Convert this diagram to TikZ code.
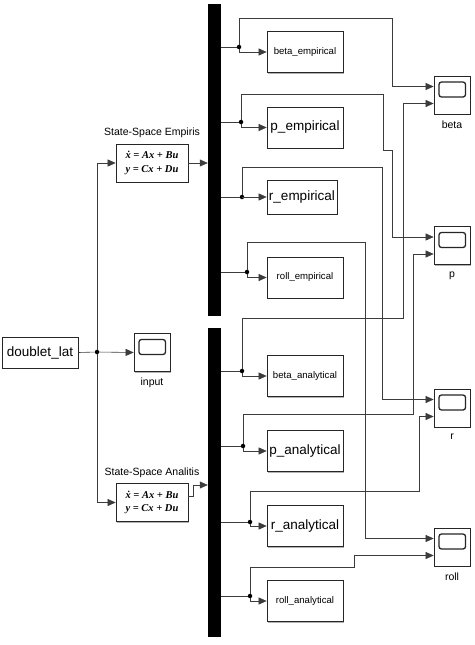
\documentclass[tikz,border=0pt]{standalone}
\usepackage{fontspec}
\setmainfont{Liberation Sans}
\newfontfamily\eqfont{Liberation Serif}
\usepackage{tikz}
\usetikzlibrary{arrows.meta,positioning,calc,shadows}
\definecolor{wirecol}{RGB}{60,60,60}
\tikzset{
  % plain block
  blk/.style={rectangle, draw=black!85, fill=white, line width=0.7pt, minimum width=#1, minimum height=41pt,
              inner sep=0pt, drop shadow={shadow xshift=1.3pt, shadow yshift=-1.3pt, fill=black!30, opacity=1}},
  blk/.default={76pt},
  % scope block with screen
  scopeblk/.style={blk=36pt, minimum height=38pt,
    path picture={\draw[line width=1.3pt, rounded corners=2.5pt]
      ([xshift=5pt,yshift=-6pt]path picture bounding box.north west) rectangle
      ([xshift=-4.5pt,yshift=-21pt]path picture bounding box.north east);}},
  % state-space block
  ssblk/.style={blk=72pt, minimum height=38pt, align=left,
                font=\eqfont\bfseries\itshape\fontsize{10.5}{13.5}\selectfont},
  % mux bar
  barblk/.style={rectangle, fill=black, minimum width=13pt, inner sep=0pt},
  % fonts
  bigf/.style={font=\fontsize{13.5}{14}\selectfont},
  smallf/.style={font=\fontsize{9.6}{10}\selectfont},
  labf/.style={font=\fontsize{10.5}{11}\selectfont},
  % wires
  wire/.style={draw=wirecol, line width=0.6pt},
  sig/.style={wire, -{Triangle[length=8pt,width=7pt]}},
  % branch dot
  bdot/.style={circle, fill=black, inner sep=0pt, minimum size=4.5pt},
}
\begin{document}
\begin{tikzpicture}[x=1pt, y=-1pt]
  \useasboundingbox (0,0) rectangle (474,645);

  % source and input scope
  \node[blk=76pt, minimum height=31pt, bigf] (dl) at (40,352.5) {doublet\_lat};
  \node[bdot] (j0) at (97,352) {};
  \node[scopeblk] (scIn) at (152,352.5) {};
  \node[labf, below=3pt of scIn] {input};

  % state-space blocks
  \node[ssblk] (ssE) at (152,163) {\.{x} = Ax + Bu\\y = Cx + Du};
  \node[labf, above=2pt of ssE] {State-Space Empiris};
  \node[ssblk] (ssA) at (152,502.5) {\.{x} = Ax + Bu\\y = Cx + Du};
  \node[labf, above=2pt of ssA] {State-Space Analitis};

  % mux bars
  \node[barblk, minimum height=312pt] (bE) at (214.5,160) {};
  \node[barblk, minimum height=309pt] (bA) at (214.5,482.5) {};

  % output blocks
  \node[blk, smallf] (betaE) at (305,52) {beta\_empirical};
  \node[blk, bigf] (pE) at (305,127.5) {p\_empirical};
  \node[blk=70pt, minimum height=34pt, bigf] (rE) at (302,197) {r\_empirical};
  \node[blk, smallf] (rollE) at (305,277.5) {roll\_empirical};
  \node[blk, smallf] (betaA) at (305,376) {beta\_analytical};
  \node[blk, bigf] (pA) at (305,451) {p\_analytical};
  \node[blk, bigf] (rA) at (305,526) {r\_analytical};
  \node[blk, smallf] (rollA) at (305,601) {roll\_analytical};

  % scopes
  \node[scopeblk] (scBeta) at (452,95) {};
  \node[labf, below=3pt of scBeta] {beta};
  \node[scopeblk] (scP) at (452,245.5) {};
  \node[labf, below=3pt of scP] {p};
  \node[scopeblk] (scR) at (452,408) {};
  \node[labf, below=3pt of scR] {r};
  \node[scopeblk] (scRoll) at (452,547) {};
  \node[labf, below=3pt of scRoll] {roll};
  \foreach \s in {scBeta,scP,scR,scRoll} {
    \coordinate (\s-1) at ([yshift=8.5pt]\s.west);
    \coordinate (\s-2) at ([yshift=-8.5pt]\s.west);
  }

  % input signal
  \draw[wire] (dl.east) -- (j0);
  \draw[sig] (j0) -- (scIn.west);
  \draw[sig] (j0) |- (ssE.west);
  \draw[sig] (j0) |- (ssA.west);
  \draw[sig] (ssE.east) -- (ssE.east -| bE.west);
  \draw[sig] ([yshift=6.5pt]ssA.east) -- ++(5,0) |- (bA.west |- 0,485);

  % branch dots
  \node[bdot] (dBetaE) at (239,47) {};
  \node[bdot] (dPE) at (241,122) {};
  \node[bdot] (dRE) at (242,197) {};
  \node[bdot] (dRollE) at (247,272) {};
  \node[bdot] (dBetaA) at (242,371) {};
  \node[bdot] (dPA) at (243,446) {};
  \node[bdot] (dRA) at (250,522) {};
  \node[bdot] (dRollA) at (250,596) {};
  \foreach \d/\b/\t in {dBetaE/bE/betaE, dPE/bE/pE, dRE/bE/rE, dRollE/bE/rollE,
                        dBetaA/bA/betaA, dPA/bA/pA, dRA/bA/rA, dRollA/bA/rollA} {
    \draw[wire] (\b.east |- \d) -- (\d);
    \draw[sig] (\d) |- (\t.west);
  }

  % to the scopes
  \draw[sig] (dBetaE) |- (392,18) |- (scBeta-1);
  \draw[sig] (dPE) |- (383,94) |- (392,150) |- (scP-1);
  \draw[sig] (dRE) |- (382,167) |- (scR-1);
  \draw[sig] (dRollE) |- (365,242) |- (scRoll-1);
  \draw[sig] (dBetaA) |- (403,318) |- (scBeta-2);
  \draw[sig] (dPA) |- (413,414) |- (scP-2);
  \draw[sig] (dRA) |- (419,491) |- (scR-2);
  \draw[sig] (dRollA) |- (354,567) |- (scRoll-2);
\end{tikzpicture}
\end{document}
